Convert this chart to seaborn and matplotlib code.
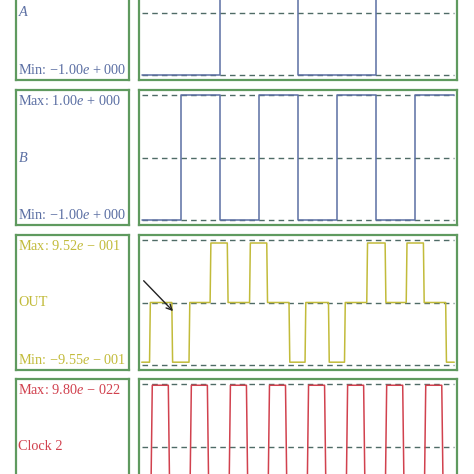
import matplotlib
matplotlib.use("Agg")
import matplotlib.pyplot as plt
import seaborn as sns
import pandas as pd

sns.set_style("white")
plt.rcParams['font.family'] = ['Liberation Serif', 'DejaVu Serif']
plt.rcParams['mathtext.fontset'] = 'custom'
plt.rcParams['mathtext.rm'] = 'Liberation Serif'
plt.rcParams['mathtext.it'] = 'Liberation Serif:italic'

# signal breakpoints (time in clock units, 0..8)
a_t = [0, 2, 2, 4, 4, 6, 6, 8]
a_v = [-1, -1, 1, 1, -1, -1, 1, 1]

b_t = [0, 1, 1, 2, 2, 3, 3, 4, 4, 5, 5, 6, 6, 7, 7, 8]
b_v = [-1, -1, 1, 1, -1, -1, 1, 1, -1, -1, 1, 1, -1, -1, 1, 1]

out_edges = [0.21, 0.78, 1.22, 1.76, 2.2, 2.77, 3.21, 3.78, 4.19, 4.79, 5.2, 5.77, 6.24, 6.78, 7.22, 7.79]
out_levels = [-0.955, 0, -0.955, 0, 0.952, 0, 0.952, 0, -0.955, 0, -0.955, 0, 0.952, 0, 0.952, 0, -0.955]

clk_rise = [0.23, 1.23, 2.23, 3.23, 4.23, 5.23, 6.23, 7.23]
clk_fall = [0.72, 1.72, 2.72, 3.72, 4.72, 5.72, 6.72, 7.72]

labels = [
    ("$A$", "Min: \u22121.00$e$ + 000", None),
    ("$B$", "Min: \u22121.00$e$ + 000", "Max: 1.00$e$ + 000"),
    ("OUT", "Min: \u22129.55$e$ \u2212 001", "Max: 9.52$e$ \u2212 001"),
    ("Clock 2", None, "Max: 9.80$e$ \u2212 022"),
]
colors = ["#5b6fa3", "#5b6fa3", "#c2bb3a", "#d1414e"]


def step_points(edges, levels, ramp=0.01):
    t, v = [0], [levels[0]]
    for i, e in enumerate(edges):
        t += [e - ramp, e + ramp]
        v += [levels[i], levels[i + 1]]
    t.append(8)
    v.append(levels[-1])
    return t, v


def clock_points(rise, fall, ramp=0.04):
    t, v = [0], [-1]
    for r, f in zip(rise, fall):
        t += [r, r + ramp, f - ramp, f]
        v += [-1, 0.98, 0.98, -1]
    t.append(8)
    v.append(-1)
    return t, v


out_t, out_v = step_points(out_edges, out_levels)
clk_t, clk_v = clock_points(clk_rise, clk_fall)
signals = [(a_t, a_v), (b_t, b_v), (out_t, out_v), (clk_t, clk_v)]

W = H = 474
fig = plt.figure(figsize=(4.74, 4.74), dpi=100)
row_tops = [-55, 90, 235, 379]
row_h = 135
green = "#5f9a5f"

for i, top in enumerate(row_tops):
    y0 = (H - top - row_h) / H
    axl = fig.add_axes([16 / W, y0, 113 / W, row_h / H])
    axr = fig.add_axes([139 / W, y0, 318 / W, row_h / H])
    for ax in (axl, axr):
        ax.set_xticks([])
        ax.set_yticks([])
        for s in ax.spines.values():
            s.set_color(green)
            s.set_linewidth(1.6)
        ax.set_ylim(-1.08, 1.08)
    axr.set_xlim(-0.07, 8.07)
    axl.set_xlim(0, 1)
    for lv in (1, 0, -1):
        axr.axhline(lv, xmin=0.01, xmax=0.99, color="#4f6b66", lw=1, ls=(0, (4, 3)), zorder=1)
    t, v = signals[i]
    df = pd.DataFrame({"t": t, "v": v})
    sns.lineplot(data=df, x="t", y="v", ax=axr, sort=False, estimator=None,
                 color=colors[i], lw=1.1, zorder=2)
    axr.set_xlabel("")
    axr.set_ylabel("")
    mid, mn, mx = labels[i]
    kw = dict(color=colors[i], fontsize=10.3, va="center", ha="left")
    axl.text(0.02, 0.0, mid, **kw)
    if mn:
        axl.text(0.02, -0.92, mn, **kw)
    if mx:
        axl.text(0.02, 0.9, mx, **kw)
    if i == 2:
        axr.annotate("", xy=(0.85, -0.17), xytext=(0.0, 0.38),
                     arrowprops=dict(arrowstyle="->", color="#222222", lw=1))

fig.savefig("out.png", dpi=100)
